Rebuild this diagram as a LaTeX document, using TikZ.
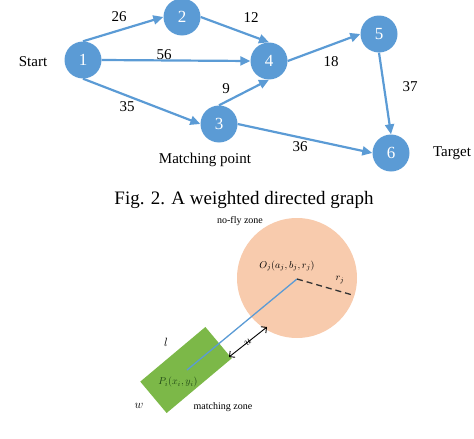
\documentclass[tikz,border=0pt]{standalone}
\usepackage{fontspec}
\setmainfont{Liberation Serif}
\usetikzlibrary{arrows.meta}
\usetikzlibrary{positioning}
\definecolor{nodeBlue}{RGB}{91,155,213}
\definecolor{peach}{RGB}{248,203,173}
\definecolor{zoneGreen}{RGB}{124,184,72}
\definecolor{textGreen}{RGB}{30,70,20}
\tikzset{>={Triangle[length=10pt,width=9pt]}}
\tikzset{
  vertex/.style={circle,fill=nodeBlue,text=white,minimum size=37pt,inner sep=0pt,font=\fontsize{17}{17}\selectfont},
  edge/.style={->,nodeBlue,line width=2.2pt},
  wlabel/.style={font=\fontsize{15}{15}\selectfont},
  small/.style={font=\fontsize{10}{10}\selectfont}
}

\begin{document}
\begin{tikzpicture}[x=1pt,y=-1pt]
      \useasboundingbox (0,0) rectangle (474,439);
      \node [vertex] (n1) at (83,60) {1};
      \node [vertex] (n2) at (182,17) {2};
      \node [vertex] (n3) at (219,124) {3};
      \node [vertex] (n4) at (269,61) {4};
      \node [vertex] (n5) at (379,34) {5};
      \node [vertex] (n6) at (391,153) {6};
      \draw [edge] (n1.north) -- (n2.west);
      \draw [edge] (n1.east) -- (n4.west);
      \draw [edge] (n1.south) -- (n3.west);
      \draw [edge] (n2.east) -- (n4.north);
      \draw [edge] (n3.north) -- (n4.south);
      \draw [edge] (n4.east) -- (n5.west);
      \draw [edge] (n5.south) -- (n6.north);
      \draw [edge] (n3.east) -- (n6.west);
      \node [wlabel] (w12) at (119,17) {26};
      \node [wlabel] (w24) at (251,18) {12};
      \node [wlabel] (w14) at (164,55) {56};
      \node [wlabel] (w45) at (331,62) {18};
      \node [wlabel] (w56) at (410,87) {37};
      \node [wlabel] (w34) at (226,89) {9};
      \node [wlabel] (w13) at (127,107) {35};
      \node [wlabel] (w36) at (300,147) {36};
      \node [wlabel] (start) at (33,62) {Start};
      \node [wlabel] (target) at (452,153) {Target};
      \node [wlabel] (match) at (205,160) {Matching point};
      \node [font=\fontsize{19}{19}\selectfont] (cap) at (244,200) {Fig. 2. A weighted directed graph};

      \node [circle,fill=peach,minimum size=120pt,inner sep=0pt] (nofly) at (297,278) {};
      \node [fill=zoneGreen,minimum width=85pt,minimum height=41pt,inner sep=0pt,rotate=40] (mzone) at (186,370) {};
      \coordinate (oj) at (297,279);
      \coordinate (pi) at (187,370);
      \draw [nodeBlue,line width=1.3pt] (pi) -- (oj);
      \draw [dashed,line width=1.3pt,black!80,dash pattern=on 6pt off 4pt] (oj) -- (nofly.-17);
      \coordinate (ua) at (229,357);
      \coordinate (ub) at (267,327);
      \draw [{Straight Barb[length=4pt]}-{Straight Barb[length=4pt]},line width=0.9pt] (ua) -- node [sloped,font=\fontsize{12}{12}\selectfont] {$u$} (ub);
      \node [small] (nflabel) at (240,221) {no-fly zone};
      \node [small] (mzlabel) at (223,407) {matching zone};
      \node [font=\fontsize{10}{10}\selectfont] (olabel) at (287,266) {$O_j(a_j,b_j,r_j)$};
      \node [font=\fontsize{10}{10}\selectfont] (rlabel) at (340,280) {$r_j$};
      \node [font=\fontsize{10}{10}\selectfont,text=textGreen] (plabel) at (178,382) {$P_i(x_i,y_i)$};
      \node [font=\fontsize{13}{13}\selectfont] (llabel) at (166,342) {$l$};
      \node [font=\fontsize{13}{13}\selectfont] (wlab) at (139,406) {$w$};
    \end{tikzpicture}
\end{document}
